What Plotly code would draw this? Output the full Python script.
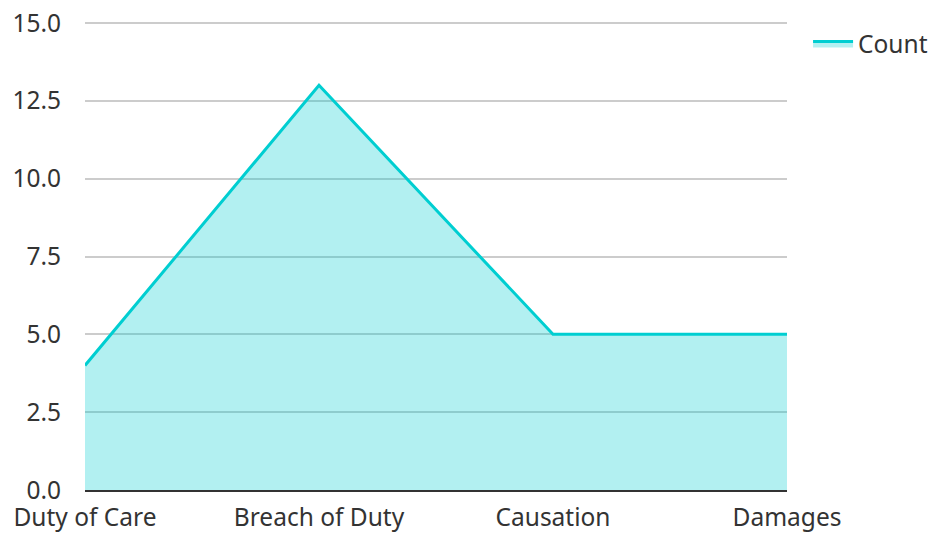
import plotly.graph_objects as go

categories = ["Duty of Care", "Breach of Duty", "Causation", "Damages"]
counts = [4, 13, 5, 5]
y_ticks = [0, 2.5, 5, 7.5, 10, 12.5, 15]
y_max = 15.064  # a hair above the top tick so its grid line is kept

fig = go.Figure()
fig.add_trace(go.Scatter(
    x=categories, y=counts, name="Count", mode="lines",
    line=dict(color="#00CED1", width=3),
    fill="tozeroy", fillcolor="rgba(0,206,209,0.3)",
))

# page body has an 8px default margin, so the figure is offset by (8, 8)
fig.update_layout(
    width=937, height=525,
    margin=dict(l=77, r=158, t=13, b=43),
    paper_bgcolor="white", plot_bgcolor="white",
    font=dict(family="Noto Sans", size=24.5, color="#333333"),
    showlegend=True,
    legend=dict(x=1.03, y=1.0, xanchor="left", yanchor="top", itemwidth=40,
                font=dict(size=24.5, color="#333333"), bgcolor="rgba(0,0,0,0)"),
    xaxis=dict(range=[0, 3], showgrid=False, showline=True, linecolor="#333333",
               linewidth=2, ticks="outside", ticklen=5, tickcolor="rgba(0,0,0,0)",
               fixedrange=True, automargin=False, ticklabeloverflow="allow"),
    yaxis=dict(range=[0, y_max], tickvals=y_ticks, ticktext=[f"{v:.1f}" for v in y_ticks],
               showgrid=True, gridcolor="#cccccc", gridwidth=1.5, zeroline=False,
               ticks="outside", ticklen=18, tickcolor="rgba(0,0,0,0)", automargin=False,
               ticklabeloverflow="allow"),
)
fig.write_html("out.html")
